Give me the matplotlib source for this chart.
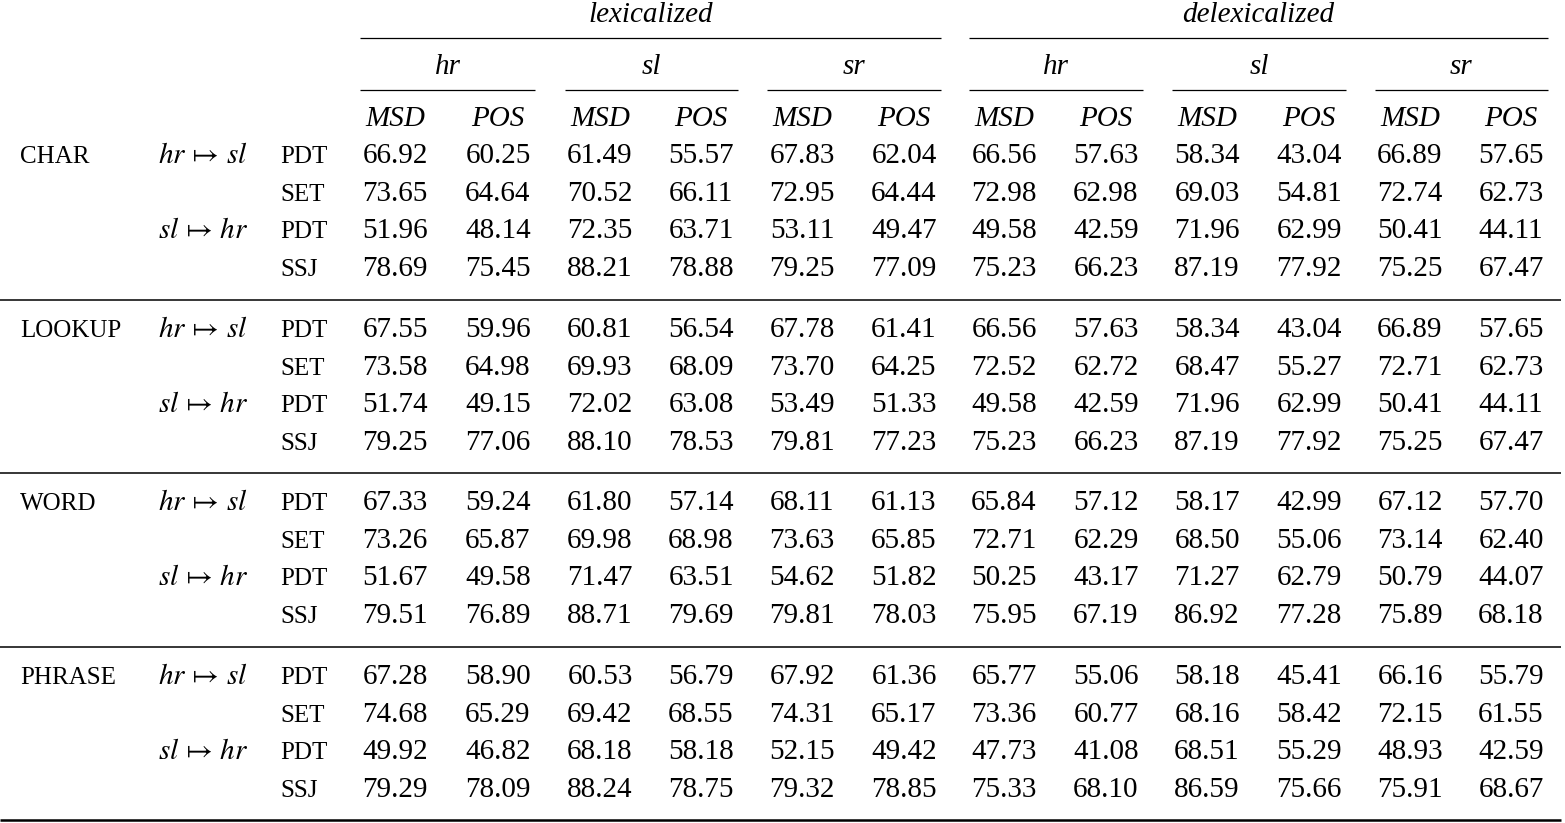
import matplotlib
matplotlib.use("Agg")
from matplotlib import pyplot as plt

plt.rcParams['font.family'] = ['Liberation Serif', 'DejaVu Serif']
plt.rcParams['mathtext.fontset'] = 'stix'

W, H = 1565, 823

# table content
methods = ["CHAR", "LOOKUP", "WORD", "PHRASE"]
directions = [r"$hr\,\mapsto\,sl$", "", r"$sl\,\mapsto\,hr$", ""]
corpora = ["PDT", "SET", "PDT", "SSJ"]
settings = ["lexicalized", "delexicalized"]
languages = ["hr", "sl", "sr"]
metrics = ["MSD", "POS"]

# columns: lex hr MSD/POS, sl, sr, delex hr, sl, sr
char_scores = [
    [66.92, 60.25, 61.49, 55.57, 67.83, 62.04, 66.56, 57.63, 58.34, 43.04, 66.89, 57.65],
    [73.65, 64.64, 70.52, 66.11, 72.95, 64.44, 72.98, 62.98, 69.03, 54.81, 72.74, 62.73],
    [51.96, 48.14, 72.35, 63.71, 53.11, 49.47, 49.58, 42.59, 71.96, 62.99, 50.41, 44.11],
    [78.69, 75.45, 88.21, 78.88, 79.25, 77.09, 75.23, 66.23, 87.19, 77.92, 75.25, 67.47],
]
lookup_scores = [
    [67.55, 59.96, 60.81, 56.54, 67.78, 61.41, 66.56, 57.63, 58.34, 43.04, 66.89, 57.65],
    [73.58, 64.98, 69.93, 68.09, 73.70, 64.25, 72.52, 62.72, 68.47, 55.27, 72.71, 62.73],
    [51.74, 49.15, 72.02, 63.08, 53.49, 51.33, 49.58, 42.59, 71.96, 62.99, 50.41, 44.11],
    [79.25, 77.06, 88.10, 78.53, 79.81, 77.23, 75.23, 66.23, 87.19, 77.92, 75.25, 67.47],
]
word_scores = [
    [67.33, 59.24, 61.80, 57.14, 68.11, 61.13, 65.84, 57.12, 58.17, 42.99, 67.12, 57.70],
    [73.26, 65.87, 69.98, 68.98, 73.63, 65.85, 72.71, 62.29, 68.50, 55.06, 73.14, 62.40],
    [51.67, 49.58, 71.47, 63.51, 54.62, 51.82, 50.25, 43.17, 71.27, 62.79, 50.79, 44.07],
    [79.51, 76.89, 88.71, 79.69, 79.81, 78.03, 75.95, 67.19, 86.92, 77.28, 75.89, 68.18],
]
phrase_scores = [
    [67.28, 58.90, 60.53, 56.79, 67.92, 61.36, 65.77, 55.06, 58.18, 45.41, 66.16, 55.79],
    [74.68, 65.29, 69.42, 68.55, 74.31, 65.17, 73.36, 60.77, 68.16, 58.42, 72.15, 61.55],
    [49.92, 46.82, 68.18, 58.18, 52.15, 49.42, 47.73, 41.08, 68.51, 55.29, 48.93, 42.59],
    [79.29, 78.09, 88.24, 78.75, 79.32, 78.85, 75.33, 68.10, 86.59, 75.66, 75.91, 68.67],
]
all_scores = [char_scores, lookup_scores, word_scores, phrase_scores]

# layout (pixels, baselines)
col_x = [395, 498, 600, 701, 802, 904, 1004, 1106, 1207, 1309, 1410, 1511]
group_base = [163, 337, 510, 684]
row_step = 37.6
FS = 21
SC = 18

fig = plt.figure(figsize=(W / 100, H / 100), dpi=100)
ax = fig.add_axes([0, 0, 1, 1])
ax.set_xlim(0, W)
ax.set_ylim(H, 0)
ax.axis("off")

# header
for s, name in enumerate(settings):
    x0, x1 = col_x[6 * s] - 35, col_x[6 * s + 5] + 37
    ax.text((x0 + x1) / 2, 22, name, ha="center", va="baseline", fontsize=FS, style="italic")
    ax.plot([x0, x1], [38, 38], color="black", lw=0.9, solid_capstyle="butt")
    for l, lang in enumerate(languages):
        c = 6 * s + 2 * l
        a0, a1 = col_x[c] - 35, col_x[c + 1] + 37
        ax.text((a0 + a1) / 2, 74, lang, ha="center", va="baseline", fontsize=FS, style="italic")
        ax.plot([a0, a1], [90, 90], color="black", lw=0.9, solid_capstyle="butt")
        for m, met in enumerate(metrics):
            ax.text(col_x[c + m], 126, met, ha="center", va="baseline", fontsize=FS, style="italic")

# body
for g, (method, scores) in enumerate(zip(methods, all_scores)):
    y0 = group_base[g]
    ax.text(20, y0, method, ha="left", va="baseline", fontsize=SC)
    for r in range(4):
        y = y0 + r * row_step
        if directions[r]:
            ax.text(158, y, directions[r], ha="left", va="baseline", fontsize=FS)
        ax.text(280, y, corpora[r], ha="left", va="baseline", fontsize=SC)
        for c, v in enumerate(scores[r]):
            ax.text(col_x[c], y, f"{v:.2f}", ha="center", va="baseline", fontsize=FS)

for y in [300, 473, 647]:
    ax.plot([0, 1561], [y, y], color="black", lw=1.1, solid_capstyle="butt")
ax.plot([0, 1561], [820, 820], color="black", lw=1.8, solid_capstyle="butt")

fig.savefig("out.png", dpi=100)
